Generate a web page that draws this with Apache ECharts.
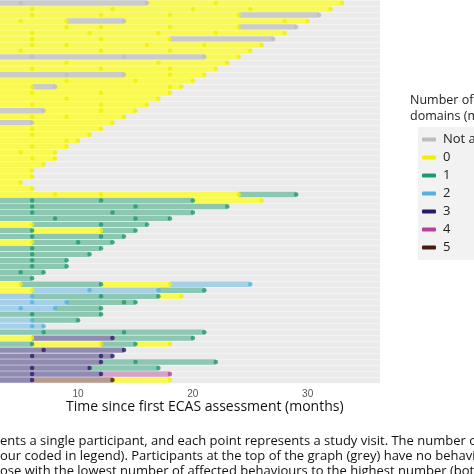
<!DOCTYPE html><html><head><meta charset="utf-8"><script src="https://cdn.jsdelivr.net/npm/echarts@6/dist/echarts.min.js"></script>
<style>html,body{margin:0;padding:0;background:#fff}#c{width:474px;height:474px}</style></head><body><div id="c"></div><script>
const statusNames=['Not assessed','0','1','2','3','4','5'];
const statusCodes=[9,0,1,2,3,4,5];
const dotColors=['#bdbdbd','#f0f000','#1e9a6a','#56b0e0','#2b1a6a','#b8409a','#4a1c10'];
const bandColors=['rgba(200,200,200,0.9)','rgba(255,255,20,0.7)','rgba(60,170,130,0.55)','rgba(120,190,230,0.6)','rgba(70,60,130,0.55)','rgba(200,100,170,0.55)','rgba(140,90,70,0.55)'];
const xTicks=[10,20,30];
const rows=[
[[0,0],[5,9],[16,9],[22,0],[33,0]],
[[0,0],[6,0],[13,0],[20,0],[25,0],[32,0]],
[[0,0],[6,0],[12,0],[18,0],[24,0],[31,9]],
[[0,0],[5,0],[9,0],[14,9],[28,0],[30,0]],
[[0,9],[9,0],[12,0],[18,0],[24,0],[29,9]],
[[0,0],[6,0],[11,0],[17,0],[22,0],[28,0]],
[[0,0],[6,0],[12,0],[18,0],[27,9]],
[[0,0],[6,0],[9,0],[16,0],[21,0],[26,0]],
[[0,0],[5,0],[12,0],[18,0],[25,0]],
[[0,0],[6,9],[14,9],[21,9],[24,0]],
[[0,0],[3,0],[9,0],[17,0],[23,0]],
[[0,0],[6,0],[12,0],[18,0],[22,0]],
[[0,0],[9,9],[14,9],[18,0],[21,0]],
[[0,0],[3,0],[9,0],[15,0],[20,0]],
[[0,0],[6,0],[8,9],[18,0],[19,0]],
[[0,0],[6,0],[12,0],[18,0]],
[[0,0],[3,0],[9,0],[17,0]],
[[0,0],[6,0],[12,0],[16,0]],
[[0,0],[7,9],[12,0],[15,0]],
[[0,0],[6,0],[9,0],[14,0]],
[[0,0],[2,9],[6,9],[13,0]],
[[0,0],[6,0],[12,0]],
[[0,0],[6,0],[11,0]],
[[0,0],[3,0],[9,0],[10,0]],
[[0,0],[6,0],[9,0]],
[[0,0],[5,0],[8,0]],
[[0,0],[6,0],[8,0]],
[[0,0],[3,0],[7,0]],
[[0,0],[6,0]],
[[0,0],[6,0]],
[[0,0],[5,0]],
[[0,0],[6,0]],
[[0,1],[8,0],[12,0],[24,0],[29,1]],
[[0,0],[6,1],[12,1],[20,1],[26,0]],
[[0,0],[6,1],[15,1],[23,1]],
[[0,1],[6,1],[13,1],[20,1]],
[[0,0],[8,1],[15,1],[18,1]],
[[0,0],[6,0],[12,1],[16,1]],
[[0,1],[6,1],[12,0],[15,1]],
[[0,0],[6,1],[12,1],[14,1]],
[[0,1],[6,0],[10,1],[13,1]],
[[0,1],[6,1],[12,1]],
[[0,0],[6,1],[11,1]],
[[0,1],[6,1],[9,1]],
[[0,1],[6,1],[9,1]],
[[0,1],[5,1],[7,1]],
[[0,0],[6,1]],
[[0,0],[5,0],[12,1],[18,0],[25,2]],
[[0,0],[6,0],[11,2],[17,2],[21,1]],
[[0,2],[6,2],[12,1],[17,1],[19,0]],
[[0,2],[6,2],[9,2],[14,1],[15,1]],
[[0,1],[5,2],[8,2],[12,1]],
[[0,2],[6,1],[12,1]],
[[0,1],[6,2],[10,1]],
[[0,1],[6,2],[7,2]],
[[0,3],[7,1],[14,1],[21,1]],
[[0,0],[6,0],[13,3],[20,1]],
[[0,1],[6,1],[12,0],[15,1],[18,0]],
[[0,2],[7,3],[14,3]],
[[0,3],[6,3],[12,3],[13,3]],
[[0,0],[3,2],[12,3],[15,1],[22,1]],
[[0,4],[6,3],[11,3],[17,1]],
[[0,4],[6,3],[12,3],[18,4]],
[[0,2],[6,3],[13,5],[18,0]]
];
const rowCats=rows.map((r,i)=>String(i));
const series=[];
statusCodes.forEach((code,k)=>{
  const segs=[],dots=[];
  rows.forEach((r,i)=>{
    r.forEach((v,j)=>{
      if(v[1]===code) dots.push([v[0],String(i)]);
      if(j>0&&v[1]===code) segs.push([r[j-1][0],v[0],i]);
    });
  });
  series.push({name:statusNames[k],type:'custom',clip:true,itemStyle:{color:dotColors[k]},z:2,
    renderItem:(p,api)=>{const a=api.coord([api.value(0),api.value(2)]),b=api.coord([api.value(1),api.value(2)]);const h=api.size([0,1])[1]*0.9;
      const x0=Math.max(a[0],p.coordSys.x);
      return {type:'rect',shape:{x:x0,y:a[1]-h/2,width:Math.max(0,b[0]-x0),height:h},style:{fill:bandColors[k]}};},
    encode:{x:[0,1],y:2},data:segs});
  series.push({name:statusNames[k],type:'scatter',clip:true,symbolSize:4.5,itemStyle:{color:dotColors[k]},z:3,data:dots});
});
const chart=echarts.init(document.getElementById('c'));
chart.setOption({
  animation:false,backgroundColor:'#fff',
  grid:{left:0,right:94,top:0,bottom:91,backgroundColor:'#ebebeb',show:true,borderWidth:0},
  xAxis:{type:'value',min:3.2,max:36.3,axisLine:{show:false},axisTick:{show:false},
    axisLabel:{color:'#555',fontSize:10,fontFamily:'Liberation Sans',margin:6,customValues:xTicks},
    splitLine:{show:false}},
  yAxis:{type:'category',data:rowCats,inverse:true,axisLine:{show:false},axisTick:{show:false},axisLabel:{show:false},
    splitLine:{show:true,interval:0,lineStyle:{color:'#f8f8f8',width:0.6}}},
  legend:{orient:'vertical',left:418,top:127,itemGap:5,itemWidth:14,itemHeight:4,icon:'roundRect',
    backgroundColor:'#f2f2f2',padding:[6,4,6,4],
    data:statusNames,textStyle:{fontSize:13,fontFamily:'Open Sans',color:'#222',padding:[0,0,0,2]}},
  graphic:[
    {type:'text',left:410,top:92,style:{text:'Number of affected behaviour\ndomains (max 5)',fontSize:12.5,fontFamily:'Open Sans',fill:'#222',lineHeight:16}},
    {type:'text',left:66,top:400,style:{text:'Time since first ECAS assessment (months)',fontSize:14,fontFamily:'Open Sans',fill:'#111'}},
    {type:'text',left:0,top:434,style:{text:'ents a single participant, and each point represents a study visit. The number of affected behaviour domains\nour coded in legend). Participants at the top of the graph (grey) have no behaviour data available. Participants\nose with the lowest number of affected behaviours to the highest number (bottom rows) at any visit. Partic',fontSize:13,fontFamily:'Open Sans',fill:'#111',lineHeight:15}}
  ],
  series:series
});
</script></body></html>
